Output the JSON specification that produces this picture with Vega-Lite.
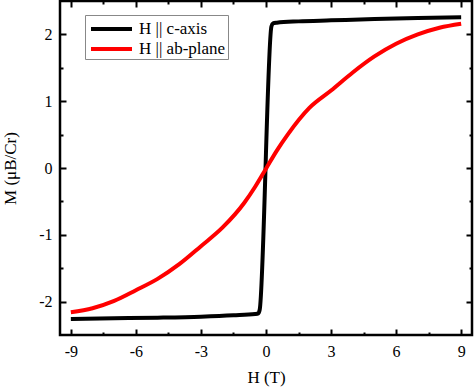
{
  "$schema": "https://vega.github.io/schema/vega-lite/v6.json",
  "width": 412,
  "height": 334,
  "autosize": {"type": "none"},
  "padding": {"left": 60, "top": 1, "right": 2, "bottom": 53},
  "background": "white",
  "config": {
    "view": {"stroke": "black", "strokeWidth": 2.5},
    "font": "Liberation Serif",
    "axis": {
      "domain": false,
      "grid": false,
      "tickColor": "black",
      "tickWidth": 2,
      "labelColor": "black",
      "labelFont": "Liberation Serif",
      "labelFontSize": 16,
      "labelFlush": false,
      "labelOverlap": false,
      "labelBound": false,
      "titleColor": "black",
      "titleFont": "Liberation Serif",
      "titleFontSize": 17,
      "titleFontWeight": "normal"
    }
  },
  "data": {
    "values": [
      {"H": -9, "M": -2.26, "s": "H || c-axis"},
      {"H": -7, "M": -2.25, "s": "H || c-axis"},
      {"H": -5, "M": -2.24, "s": "H || c-axis"},
      {"H": -3, "M": -2.225, "s": "H || c-axis"},
      {"H": -1.5, "M": -2.205, "s": "H || c-axis"},
      {"H": -0.5, "M": -2.185, "s": "H || c-axis"},
      {"H": -0.35, "M": -2.175, "s": "H || c-axis"},
      {"H": -0.29, "M": -2.12, "s": "H || c-axis"},
      {"H": 0.25, "M": 2.12, "s": "H || c-axis"},
      {"H": 0.32, "M": 2.165, "s": "H || c-axis"},
      {"H": 0.5, "M": 2.175, "s": "H || c-axis"},
      {"H": 1.5, "M": 2.195, "s": "H || c-axis"},
      {"H": 3, "M": 2.21, "s": "H || c-axis"},
      {"H": 5, "M": 2.23, "s": "H || c-axis"},
      {"H": 7, "M": 2.245, "s": "H || c-axis"},
      {"H": 9, "M": 2.255, "s": "H || c-axis"},
      {"H": -9, "M": -2.16, "s": "H || ab-plane"},
      {"H": -8, "M": -2.1, "s": "H || ab-plane"},
      {"H": -7, "M": -1.99, "s": "H || ab-plane"},
      {"H": -6, "M": -1.83, "s": "H || ab-plane"},
      {"H": -5, "M": -1.66, "s": "H || ab-plane"},
      {"H": -4, "M": -1.44, "s": "H || ab-plane"},
      {"H": -3, "M": -1.17, "s": "H || ab-plane"},
      {"H": -2, "M": -0.89, "s": "H || ab-plane"},
      {"H": -1, "M": -0.52, "s": "H || ab-plane"},
      {"H": -0.5, "M": -0.28, "s": "H || ab-plane"},
      {"H": 0, "M": -0.01, "s": "H || ab-plane"},
      {"H": 0.5, "M": 0.26, "s": "H || ab-plane"},
      {"H": 1, "M": 0.5, "s": "H || ab-plane"},
      {"H": 2, "M": 0.9, "s": "H || ab-plane"},
      {"H": 3, "M": 1.16, "s": "H || ab-plane"},
      {"H": 4, "M": 1.43, "s": "H || ab-plane"},
      {"H": 5, "M": 1.67, "s": "H || ab-plane"},
      {"H": 6, "M": 1.86, "s": "H || ab-plane"},
      {"H": 7, "M": 2.0, "s": "H || ab-plane"},
      {"H": 8, "M": 2.1, "s": "H || ab-plane"},
      {"H": 9, "M": 2.16, "s": "H || ab-plane"}
    ]
  },
  "layer": [
    {
      "mark": {"type": "line", "strokeWidth": 4, "clip": true, "interpolate": "monotone"},
      "encoding": {
        "x": {
          "field": "H", "type": "quantitative",
          "scale": {"domain": [-9.5, 9.5], "nice": false, "zero": false},
          "axis": {
            "orient": "bottom",
            "title": "H (T)",
            "values": [-9, -6, -3, 0, 3, 6, 9],
            "tickSize": 6,
            "offset": -6,
            "labelExpr": "'' + datum.value",
            "labelPadding": 8,
            "titlePadding": 10
          }
        },
        "y": {
          "field": "M", "type": "quantitative",
          "scale": {"domain": [-2.5, 2.5], "nice": false, "zero": false},
          "axis": {
            "orient": "left",
            "title": "M (μB/Cr)",
            "values": [-2, -1, 0, 1, 2],
            "tickSize": 6,
            "offset": -6,
            "labelExpr": "'' + datum.value",
            "labelPadding": 8,
            "titlePadding": 19
          }
        },
        "color": {
          "field": "s", "type": "nominal",
          "scale": {"domain": ["H || c-axis", "H || ab-plane"], "range": ["black", "#ff0000"]},
          "legend": {
            "orient": "none",
            "legendX": 25,
            "legendY": 14,
            "title": null,
            "symbolType": "M-0.8,0H3.3",
            "symbolSize": 400,
            "symbolStrokeWidth": 4,
            "labelFont": "Liberation Serif",
            "labelFontSize": 17,
            "labelColor": "black",
            "labelOffset": 28,
            "strokeColor": "#888888",
            "padding": 2,
            "rowPadding": 0
          }
        }
      }
    },
    {
      "mark": {"type": "line", "opacity": 0},
      "encoding": {
        "x": {
          "field": "H", "type": "quantitative",
          "axis": {"orient": "top", "title": null, "values": [-9, -6, -3, 0, 3, 6, 9], "tickSize": 6, "offset": -6, "labels": false}
        },
        "y": {
          "field": "M", "type": "quantitative",
          "axis": {"orient": "right", "title": null, "values": [-2, -1, 0, 1, 2], "tickSize": 6, "offset": -6, "labels": false}
        },
        "detail": {"field": "s", "type": "nominal"}
      }
    },
    {
      "mark": {"type": "line", "opacity": 0},
      "encoding": {
        "x": {
          "field": "H", "type": "quantitative",
          "axis": {"orient": "bottom", "title": null, "values": [-7.5, -4.5, -1.5, 1.5, 4.5, 7.5], "tickSize": 3, "offset": -3, "labels": false}
        },
        "y": {
          "field": "M", "type": "quantitative",
          "axis": {"orient": "left", "title": null, "values": [-1.5, -0.5, 0.5, 1.5], "tickSize": 3, "offset": -3, "labels": false}
        },
        "detail": {"field": "s", "type": "nominal"}
      }
    },
    {
      "mark": {"type": "line", "opacity": 0},
      "encoding": {
        "x": {
          "field": "H", "type": "quantitative",
          "axis": {"orient": "top", "title": null, "values": [-7.5, -4.5, -1.5, 1.5, 4.5, 7.5], "tickSize": 3, "offset": -3, "labels": false}
        },
        "y": {
          "field": "M", "type": "quantitative",
          "axis": {"orient": "right", "title": null, "values": [-1.5, -0.5, 0.5, 1.5], "tickSize": 3, "offset": -3, "labels": false}
        },
        "detail": {"field": "s", "type": "nominal"}
      }
    }
  ],
  "resolve": {"axis": {"x": "independent", "y": "independent"}}
}
